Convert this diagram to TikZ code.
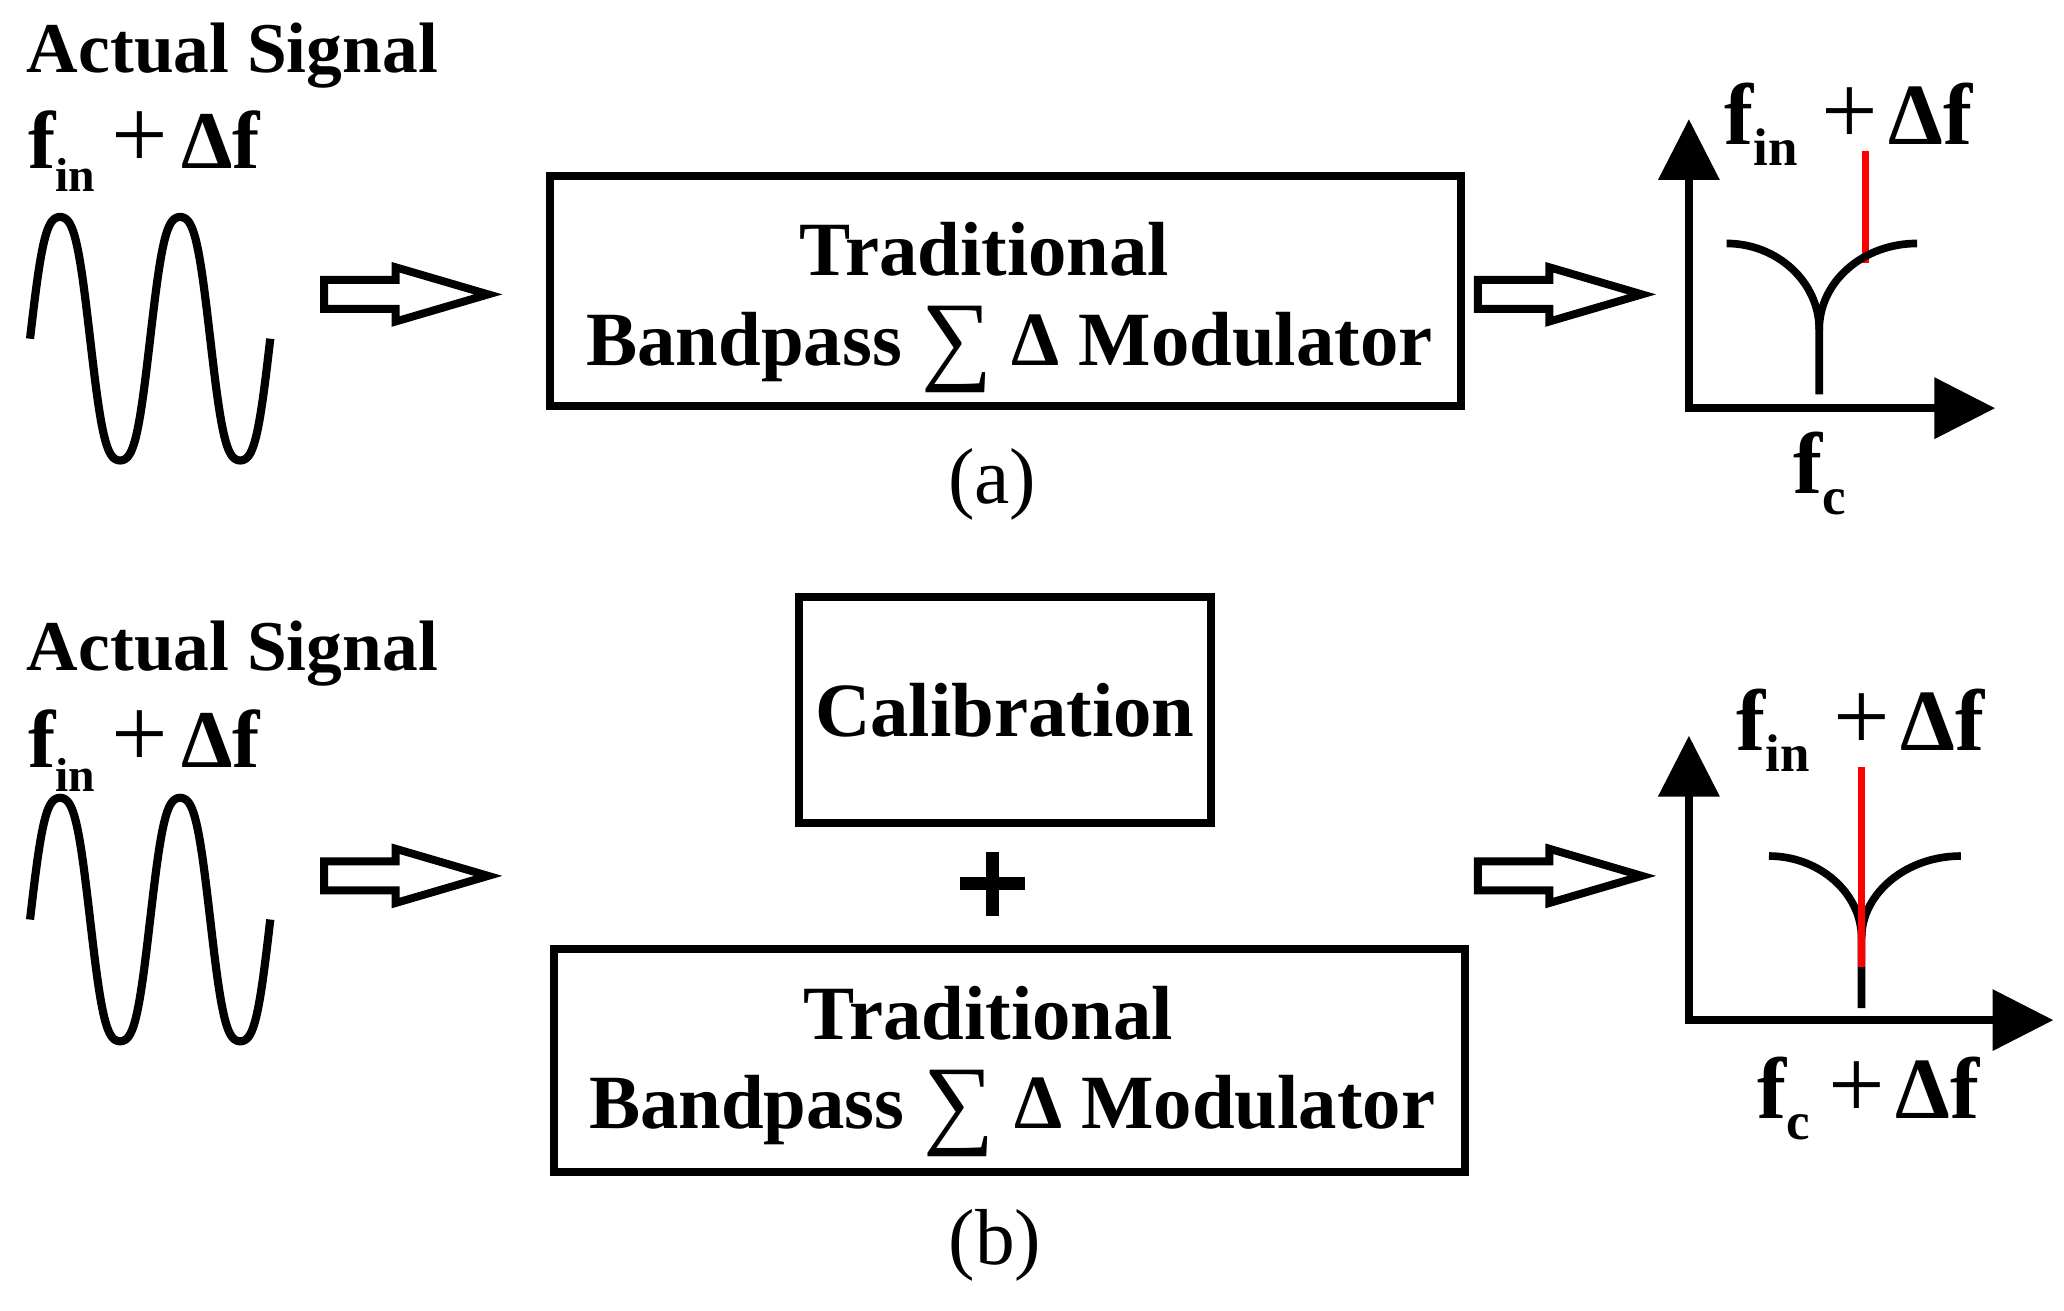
\documentclass[tikz,border=0pt]{standalone}
\usepackage{fontspec}
\usepackage{graphicx}
\setmainfont{Liberation Serif}
\usetikzlibrary{arrows.meta}
\newcommand{\bigsum}{{\mdseries\raisebox{-2.5pt}{\scalebox{1.3}{∑}}}}
\newcommand{\bigplus}{{\mdseries\fontsize{38}{38}\selectfont +}}
\begin{document}
\begin{tikzpicture}[x=0.5pt,y=-0.5pt,
  blk/.style={draw=black, line width=3pt, fill=white, inner sep=0pt},
  boxtxt/.style={font=\fontsize{29}{34}\selectfont\bfseries, inner sep=0pt},
  sigtxt/.style={font=\fontsize{27}{30}\selectfont\bfseries, inner sep=0pt, anchor=base west},
  lbl/.style={font=\fontsize{31}{32}\selectfont\bfseries, inner sep=0pt, anchor=base west},
  glbl/.style={font=\fontsize{33}{34}\selectfont\bfseries, inner sep=0pt, anchor=base west},
  captxt/.style={font=\fontsize{30}{32}\selectfont, inner sep=0pt},
  wave/.style={line width=3.1pt},
  hollow/.style={draw=black, fill=white, line width=3pt, line join=miter},
  axisline/.style={line width=3.25pt, line join=miter,
    {Triangle[length=23pt,width=22.5pt]}-{Triangle[length=23pt,width=22.5pt]}},
  notch/.style={line width=2.9pt},
  peak/.style={draw=red, line width=2.9pt},
  plusbar/.style={line width=5pt}
]
\useasboundingbox (0,0) rectangle (1560,990.8);

% ---------------- (a) ----------------
\node[sigtxt] (as1) at (20,55) {Actual Signal};
\node[lbl] (fin1) at (21,127) {f\raisebox{-9pt}{\fontsize{18}{18}\selectfont in}\hspace{6pt}\bigplus\hspace{5pt}Δf};
\draw[wave] plot[domain=0:720, samples=241, smooth]
  ({22.7+\x*0.2522},{256-100*(sin(\x)+0.08*sin(3*\x))});

\coordinate (h1) at (245,222.5);
\draw[hollow] (h1) ++(0,-11) -- ++(54,0) -- ++(0,-9.5) -- ++(70,20.5) -- ++(-70,20.5) -- ++(0,-9.5) -- ++(-54,0) -- cycle;

\node[blk, minimum width=344pt, minimum height=87pt] (mod1) at (760,220) {};
\node[boxtxt, anchor=base] (t1a) at (744,208) {Traditional};
\node[boxtxt, anchor=base] (t1b) at (763,276) {Bandpass \bigsum\ Δ Modulator};
\node[captxt] (capa) at (750,366) {(a)};

\coordinate (h2) at (1117,222.5);
\draw[hollow] (h2) ++(0,-11) -- ++(54,0) -- ++(0,-9.5) -- ++(70,20.5) -- ++(-70,20.5) -- ++(0,-9.5) -- ++(-54,0) -- cycle;

\coordinate (o1) at (1276.5,308.5);
\coordinate (y1) at (1276.5,90);
\coordinate (x1) at (1508,308.5);
\draw[axisline] (y1) -- (o1) -- (x1);

\coordinate (r1t) at (1410,114);
\coordinate (r1b) at (1410,199);
\draw[peak] (r1t) -- (r1b);
\coordinate (n1l) at (1305,184);
\coordinate (n1j) at (1375,249);
\coordinate (n1b) at (1375,298);
\coordinate (n1r) at (1449,184);
\draw[notch] (n1l) .. controls +(38,0) and +(0,-36) .. (n1j) -- (n1b);
\draw[notch] (n1j) .. controls +(0,-36) and +(-41,0) .. (n1r);

\node[glbl] (g1t) at (1303,109) {f\raisebox{-8pt}{\fontsize{20}{20}\selectfont in}\hspace{9pt}\bigplus\hspace{4pt}Δf};
\node[glbl] (g1b) at (1355,373) {f\raisebox{-8pt}{\fontsize{20}{20}\selectfont c}};

% ---------------- (b) ----------------
\node[sigtxt] (as2) at (20,507) {Actual Signal};
\node[lbl] (fin2) at (21,580) {f\raisebox{-9pt}{\fontsize{18}{18}\selectfont in}\hspace{6pt}\bigplus\hspace{5pt}Δf};
\draw[wave] plot[domain=0:720, samples=241, smooth]
  ({22.7+\x*0.2522},{695-100*(sin(\x)+0.08*sin(3*\x))});

\coordinate (h3) at (245,662);
\draw[hollow] (h3) ++(0,-11) -- ++(54,0) -- ++(0,-9.5) -- ++(70,20.5) -- ++(-70,20.5) -- ++(0,-9.5) -- ++(-54,0) -- cycle;

\node[blk, boxtxt, minimum width=155.5pt, minimum height=85.5pt] (cal) at (759.5,536.5) {Calibration};

\coordinate (pl) at (750,668);
\draw[plusbar] (pl) ++(-24.5,0) -- ++(49,0);
\draw[plusbar] (pl) ++(0,-24) -- ++(0,48);

\node[blk, minimum width=344pt, minimum height=84.5pt] (mod2) at (763,801.5) {};
\node[boxtxt, anchor=base] (t2a) at (747,786) {Traditional};
\node[boxtxt, anchor=base] (t2b) at (765,853) {Bandpass \bigsum\ Δ Modulator};
\node[captxt] (capb) at (752,941) {(b)};

\coordinate (h4) at (1117,662);
\draw[hollow] (h4) ++(0,-11) -- ++(54,0) -- ++(0,-9.5) -- ++(70,20.5) -- ++(-70,20.5) -- ++(0,-9.5) -- ++(-54,0) -- cycle;

\coordinate (o2) at (1276.5,771);
\coordinate (y2) at (1276.5,556);
\coordinate (x2) at (1552,771);
\draw[axisline] (y2) -- (o2) -- (x2);

\coordinate (n2l) at (1337,647);
\coordinate (n2j) at (1407,709);
\coordinate (n2b) at (1407,762);
\coordinate (n2r) at (1482,647);
\draw[notch] (n2l) .. controls +(38,0) and +(0,-34) .. (n2j) -- (n2b);
\draw[notch] (n2j) .. controls +(0,-34) and +(-41,0) .. (n2r);
\coordinate (r2t) at (1407,580);
\coordinate (r2b) at (1407,731);
\draw[peak] (r2t) -- (r2b);

\node[glbl] (g2t) at (1312,567) {f\raisebox{-8pt}{\fontsize{20}{20}\selectfont in}\hspace{9pt}\bigplus\hspace{4pt}Δf};
\node[glbl] (g2b) at (1328,845) {f\raisebox{-8pt}{\fontsize{20}{20}\selectfont c}\hspace{7pt}\bigplus\hspace{4pt}Δf};
\end{tikzpicture}
\end{document}
